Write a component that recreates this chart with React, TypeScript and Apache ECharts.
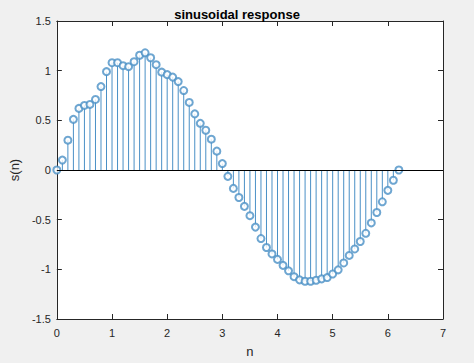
import React, { useEffect, useRef } from "react";
import * as echarts from "echarts";

const nValues: number[] = Array.from({ length: 63 }, (_, i) => Math.round(i * 10) / 100);
const sValues: number[] = [
  0.0, 0.1, 0.3, 0.51, 0.62, 0.65, 0.66, 0.71, 0.84, 0.99,
  1.08, 1.08, 1.05, 1.04, 1.09, 1.155, 1.18, 1.13, 1.06, 0.985,
  0.96, 0.935, 0.89, 0.8, 0.68, 0.565, 0.47, 0.4, 0.31, 0.19,
  0.065, -0.064, -0.185, -0.277, -0.366, -0.46, -0.575, -0.69, -0.78, -0.845,
  -0.9, -0.96, -1.015, -1.074, -1.106, -1.12, -1.12, -1.11, -1.096, -1.083,
  -1.047, -1.005, -0.936, -0.86, -0.795, -0.72, -0.637, -0.533, -0.428, -0.32,
  -0.205, -0.103, 0.0,
];
const titleText = "sinusoidal response";
const xLabel = "n";
const yLabel = "s(n)";

export default function App() {
  const ref = useRef<HTMLDivElement>(null);
  useEffect(() => {
    if (!ref.current) return;
    const chart = echarts.init(ref.current, undefined, { renderer: "svg" });
    const data = nValues.map((n, i) => [n, sValues[i]]);
    const stemColor = "#4a90c6";
    const font = "Liberation Sans, Arial, sans-serif";
    const axisCommon = {
      type: "value" as const,
      axisLine: { show: true, onZero: false, lineStyle: { color: "#262626", width: 1 } },
      axisTick: { show: true, inside: true, length: 5, lineStyle: { color: "#262626" } },
      splitLine: { show: false },
    };
    chart.setOption({
      animation: false,
      backgroundColor: "#f0f0f0",
      title: {
        text: titleText,
        left: "center",
        top: 3,
        textStyle: { fontFamily: font, fontSize: 13, fontWeight: "bold", color: "#000" },
      },
      grid: {
        left: 55,
        right: 31,
        top: 21,
        bottom: 37,
        show: true,
        backgroundColor: "#ffffff",
        borderWidth: 0,
      },
      xAxis: [
        {
          ...axisCommon,
          min: 0,
          max: 7,
          interval: 1,
          position: "bottom",
          name: xLabel,
          nameLocation: "middle",
          nameGap: 26,
          nameTextStyle: { fontFamily: font, fontSize: 13, color: "#262626" },
          axisLabel: { fontFamily: font, fontSize: 11, color: "#262626", margin: 8 },
        },
        {
          ...axisCommon,
          min: 0,
          max: 7,
          interval: 1,
          position: "top",
          axisLabel: { show: false },
        },
      ],
      yAxis: [
        {
          ...axisCommon,
          min: -1.5,
          max: 1.5,
          interval: 0.5,
          position: "left",
          name: yLabel,
          nameLocation: "middle",
          nameGap: 28,
          nameTextStyle: { fontFamily: font, fontSize: 13, color: "#262626" },
          axisLabel: { fontFamily: font, fontSize: 11, color: "#262626", margin: 6 },
        },
        {
          ...axisCommon,
          min: -1.5,
          max: 1.5,
          interval: 0.5,
          position: "right",
          axisLabel: { show: false },
        },
      ],
      series: [
        {
          type: "custom",
          xAxisIndex: 0,
          yAxisIndex: 0,
          data,
          renderItem: (params: any, api: any) => {
            const p0 = api.coord([api.value(0), 0]);
            const p1 = api.coord([api.value(0), api.value(1)]);
            return {
              type: "line",
              shape: { x1: p0[0], y1: p0[1], x2: p1[0], y2: p1[1] },
              style: { stroke: stemColor, lineWidth: 1 },
            };
          },
          markLine: {
            silent: true,
            symbol: ["none", "none"],
            label: { show: false },
            lineStyle: { color: "#000", type: "solid", width: 1 },
            data: [{ yAxis: 0 }],
          },
          z: 2,
        },
        {
          type: "scatter",
          xAxisIndex: 0,
          yAxisIndex: 0,
          data,
          symbol: "emptyCircle",
          symbolSize: 7,
          itemStyle: { color: stemColor, borderWidth: 1 },
          z: 3,
        },
      ],
    });
    return () => chart.dispose();
  }, []);
  return (
    <div
      ref={ref}
      style={{ position: "absolute", left: 0, top: 0, width: 474, height: 363 }}
    />
  );
}
